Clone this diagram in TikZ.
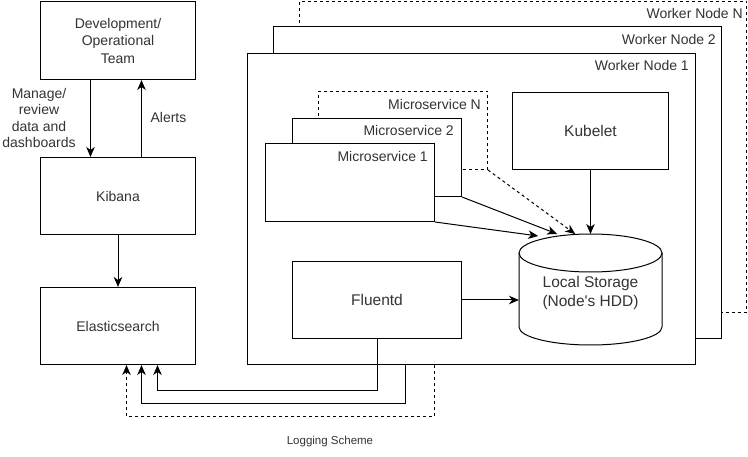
\documentclass[tikz,border=0pt]{standalone}
\usepackage{fontspec}
\setmainfont{Liberation Sans}
\newfontfamily\plainsans{Liberation Sans}
\usetikzlibrary{arrows.meta}
\definecolor{txt}{HTML}{333333}
\begin{document}
\begin{tikzpicture}[x=1pt,y=-1pt,
  box/.style={draw, fill=white, line width=1pt, inner sep=0pt, anchor=north west, text=txt, font=\fontsize{14}{17.5}\selectfont, align=center},
  bigbox/.style={box, font=\fontsize{15.5}{18.5}\selectfont},
  dline/.style={dash pattern=on 3pt off 3pt},
  lbl/.style={text=txt, font=\fontsize{14}{16.5}\selectfont, inner sep=0pt, align=center},
  arr/.style={line width=1pt, -{Stealth[length=10pt,width=8.5pt,inset=3pt]}}]
\useasboundingbox (0,0) rectangle (748,457);

% left column
\node[box, minimum width=155pt, minimum height=78pt] (dev) at (40,1) {Development/\\Operational\\Team};
\node[box, minimum width=155pt, minimum height=77pt] (kibana) at (40,157) {Kibana};
\node[box, minimum width=155pt, minimum height=77pt] (elastic) at (40,287) {Elasticsearch};

% worker nodes
\node[box, dline, minimum width=447pt, minimum height=311pt] (wnN) at (299,1) {};
\node[lbl, anchor=east] (lwnN) at (743,13) {Worker Node N};
\node[box, minimum width=448pt, minimum height=312pt] (wn2) at (273,26) {};
\node[lbl, anchor=east] (lwn2) at (716,39) {Worker Node 2};
\node[box, minimum width=448pt, minimum height=311pt] (wn1) at (247,53) {};
\node[lbl, anchor=east] (lwn1) at (689,65) {Worker Node 1};

% microservices
\node[box, dline, minimum width=169pt, minimum height=78pt] (msN) at (318,91) {};
\node[lbl, anchor=east] (lmsN) at (481,104) {Microservice N};
\node[box, minimum width=169pt, minimum height=78pt] (ms2) at (292,118) {};
\node[lbl, anchor=east] (lms2) at (454,130) {Microservice 2};
\node[box, minimum width=169pt, minimum height=78pt] (ms1) at (265,143) {};
\node[lbl, anchor=east] (lms1) at (428,156) {Microservice 1};

\node[bigbox, minimum width=156pt, minimum height=77pt] (kubelet) at (512,92) {Kubelet};
\node[bigbox, minimum width=169pt, minimum height=77pt] (fluentd) at (292,261) {Fluentd};

% local storage cylinder
\draw[line width=1pt] (519,253) -- (519,327) arc[start angle=180, end angle=360, x radius=71.5pt, y radius=18pt] -- (662,253);
\draw[line width=1pt] (590.5,253) ellipse[x radius=71.5pt, y radius=19pt];
\node[inner sep=0pt, minimum width=143pt, minimum height=111pt, anchor=north west] (store) at (519,234) {};
\node[inner sep=0pt, text=txt, align=center, font=\plainsans\fontsize{15.5}{19}\selectfont] (storetxt) at (590.5,293) {Local Storage\\(Node's HDD)};

% arrows inside the worker node
\draw[arr] (kubelet.south) -- (kubelet.south |- store.north);
\draw[arr] (ms1.south east) -- ([xshift=-52.5pt,yshift=-2pt]store.north);
\draw[arr] (ms2.south east) -- ([xshift=-33.5pt]store.north);
\draw[arr, dline] (msN.south east) -- ([xshift=-15.5pt]store.north);
\draw[arr] (fluentd.east) -- (fluentd.east -| store.west);

% left column arrows
\draw[arr] ([xshift=-27.5pt]dev.south) -- ([xshift=-27.5pt]kibana.north);
\draw[arr] ([xshift=23.5pt]kibana.north) -- ([xshift=23.5pt]dev.south);
\draw[arr] (kibana.south) -- (elastic.north);
\node[lbl] (manage) at (39,118) {Manage/\\review\\data and\\dashboards};
\node[lbl] (alerts) at (168.5,117) {Alerts};

% logging back to elasticsearch
\draw[arr] (fluentd.south) -- ++(0,52) -| ([xshift=39.5pt]elastic.south);
\draw[arr] ([xshift=158pt]wn1.south west) -- ++(0,39) -| ([xshift=23.5pt]elastic.south);
\draw[arr, dline] ([xshift=187pt]wn1.south west) -- ++(0,52) -| ([xshift=8.5pt]elastic.south);

\node[text=txt, font=\fontsize{11.5}{14}\selectfont, inner sep=0pt] (title) at (330,442) {Logging Scheme};
\end{tikzpicture}
\end{document}
